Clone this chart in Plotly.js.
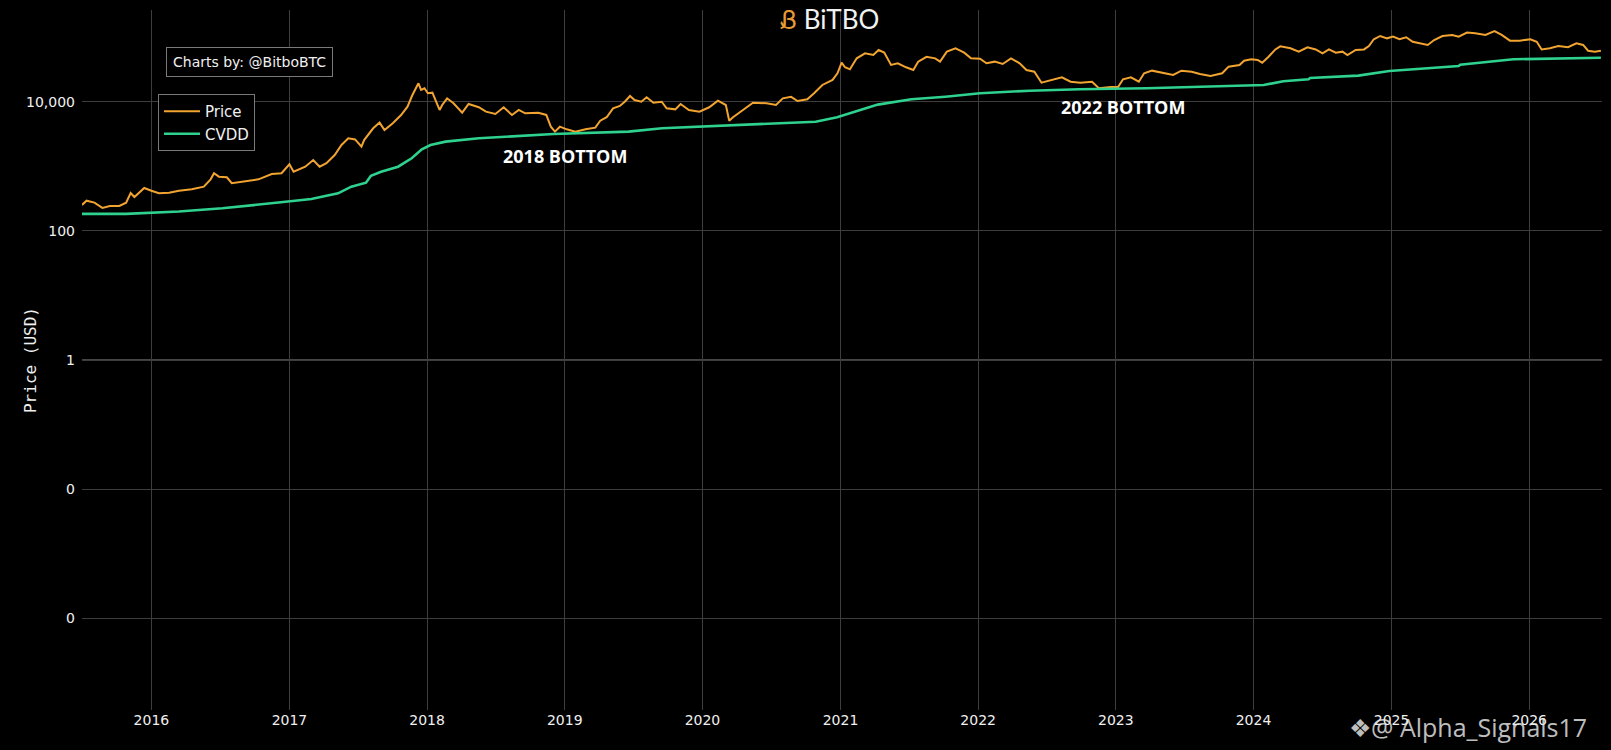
<!DOCTYPE html>
<html>
<head>
<meta charset="utf-8">
<script src="https://cdn.plot.ly/plotly-3.0.1.min.js"></script>
<style>html,body{margin:0;padding:0;background:#000;}#chart{width:1611px;height:750px;}</style>
</head>
<body>
<div id="chart"></div>
<script>
// ---- data ----
const priceDates = [
'2015-07-01','2015-07-13','2015-08-03','2015-08-24','2015-09-13','2015-10-08','2015-10-26','2015-11-07','2015-11-17','2015-12-13',
'2016-01-01','2016-01-21','2016-02-17','2016-03-14','2016-04-17','2016-05-19','2016-06-06','2016-06-15','2016-06-28','2016-07-19',
'2016-08-01','2016-09-05','2016-10-11','2016-11-15','2016-12-11','2017-01-01','2017-01-12','2017-02-12','2017-03-05','2017-03-22',
'2017-04-09','2017-05-01','2017-05-19','2017-06-06','2017-06-24','2017-07-11','2017-07-18','2017-08-11','2017-08-28','2017-09-10',
'2017-10-02','2017-10-24','2017-11-10','2017-11-23','2017-12-09','2017-12-16','2017-12-25','2018-01-03','2018-01-15','2018-02-03',
'2018-02-10','2018-02-23','2018-03-12','2018-04-04','2018-04-21','2018-05-18','2018-06-06','2018-07-01','2018-07-23','2018-08-14',
'2018-09-01','2018-09-18','2018-10-23','2018-11-13','2018-11-25','2018-12-06','2018-12-19','2019-01-06','2019-01-29','2019-02-25',
'2019-03-23','2019-04-05','2019-04-22','2019-05-09','2019-05-27','2019-06-09','2019-06-23','2019-07-05','2019-07-23','2019-08-06',
'2019-08-24','2019-09-15','2019-09-28','2019-10-21','2019-11-04','2019-11-26','2019-12-24','2020-01-19','2020-02-11','2020-03-03',
'2020-03-12','2020-03-22','2020-04-12','2020-04-26','2020-05-14','2020-06-19','2020-07-14','2020-08-01','2020-08-23','2020-09-09',
'2020-10-05','2020-10-23','2020-11-14','2020-12-11','2020-12-24','2021-01-04','2021-01-13','2021-01-26','2021-02-13','2021-03-07',
'2021-03-29','2021-04-12','2021-04-27','2021-05-15','2021-06-02','2021-06-24','2021-07-13','2021-07-26','2021-08-17','2021-09-09',
'2021-09-22','2021-10-10','2021-11-02','2021-11-25','2021-12-13','2022-01-06','2022-01-23','2022-02-14','2022-03-07','2022-03-29',
'2022-04-21','2022-05-09','2022-05-30','2022-06-18','2022-07-09','2022-08-11','2022-09-03','2022-09-29','2022-10-30','2022-11-17',
'2022-12-18','2023-01-07','2023-01-20','2023-02-10','2023-03-03','2023-03-17','2023-04-07','2023-05-05','2023-06-02','2023-06-24',
'2023-07-21','2023-08-12','2023-09-09','2023-10-10','2023-10-27','2023-11-25','2023-12-07','2023-12-26','2024-01-12','2024-01-24',
'2024-02-10','2024-02-28','2024-03-12','2024-04-08','2024-04-30','2024-05-23','2024-06-14','2024-07-02','2024-07-19','2024-08-06',
'2024-08-24','2024-09-06','2024-09-28','2024-10-20','2024-11-02','2024-11-15','2024-12-02','2024-12-20','2025-01-05','2025-01-22',
'2025-02-09','2025-02-26','2025-03-18','2025-04-07','2025-04-24','2025-05-16','2025-06-11','2025-06-28','2025-07-20','2025-08-11',
'2025-09-07','2025-10-01','2025-10-20','2025-11-11','2025-12-07','2026-01-04','2026-01-21','2026-02-03','2026-02-25','2026-03-19',
'2026-04-14','2026-05-06','2026-05-24','2026-06-06','2026-06-24','2026-07-10'
];
const priceValues = [
253,295,275,228,244,244,275,388,336,464,
421,385,393,421,443,486,632,785,695,680,
550,582,632,766,785,1082,830,993,1260,993,
1125,1506,2153,2735,2630,2026,2570,3910,4790,3680,
4680,6280,8450,12830,19500,15350,16300,13650,13960,7520,
8980,11400,9540,6820,9310,8300,7080,6510,8280,6280,
7520,6670,6820,6300,4140,3470,4140,3770,3470,3770,
4000,5130,5800,7980,8670,10100,12400,10740,10100,11830,
9750,10100,7980,7690,9310,7520,7080,8280,10480,8980,
5130,5800,7080,7980,9750,9540,8980,11400,12020,10360,
11000,13650,18370,21950,27860,40700,34500,32100,47500,56900,
53500,64000,58200,37500,39800,34500,31300,42200,50200,47500,
42200,60300,68000,58200,47500,47000,39800,42200,38800,47500,
39800,31300,29500,19900,21400,24150,20650,19900,20650,16300,
17000,17000,22500,24150,20650,27860,30600,28500,26250,30600,
29500,27200,25300,27860,35300,37500,43600,45900,44800,40700,
50200,65300,73000,68000,60300,70500,65300,56900,65300,58200,
60300,53500,64000,65300,73800,93800,105500,97000,103000,93800,
100700,86000,81300,76600,91400,105500,109400,103000,119000,116000,
109400,126000,109400,89200,89200,93800,86000,65300,68000,73800,
70500,81300,76600,62400,60300,62400
];
const cvddDates = [
'2015-07-01','2015-10-26','2016-03-14','2016-07-07','2016-12-03','2017-02-28','2017-05-10','2017-06-14','2017-07-23','2017-08-05',
'2017-09-01','2017-10-16','2017-11-21','2017-12-18','2018-01-10','2018-02-19','2018-05-18','2018-12-02','2019-06-19','2019-09-16',
'2020-10-27','2020-12-23','2021-04-10','2021-07-08','2021-10-06','2022-01-06','2022-05-18','2022-09-27','2023-03-24','2023-09-16',
'2023-11-25','2024-01-28','2024-03-20','2024-05-26','2024-05-30','2024-10-05','2024-12-26','2025-06-28','2025-07-02','2025-11-20',
'2026-07-10'
];
const cvddValues = [
184,184,200,225,276,314,384,486,562,719,
830,993,1340,1850,2153,2430,2735,3190,3470,3910,
4950,5800,9100,11000,12080,13650,14970,15750,16300,17300,
17700,18300,21000,22500,23550,25600,30200,36100,37900,45900,
48600
];
const yTickVals = [0.0001, 0.01, 1, 100, 10000];
const yTickText = ['0', '0', '1', '100', '10,000'];
const seriesNames = ['Price', 'CVDD'];

// ---- chart ----
const traces = [
  {x: priceDates, y: priceValues, name: seriesNames[0], type: 'scatter', mode: 'lines',
   line: {color: '#f2a431', width: 2}},
  {x: cvddDates, y: cvddValues, name: seriesNames[1], type: 'scatter', mode: 'lines',
   line: {color: '#2fd18f', width: 2.6}}
];

const layout = {
  width: 1611, height: 750,
  paper_bgcolor: '#000', plot_bgcolor: '#000',
  margin: {l: 82, r: 9, t: 10, b: 40},
  font: {family: 'DejaVu Sans, Verdana, sans-serif', color: '#f0f0f0', size: 14},
  showlegend: true,
  legend: {x: 0.05, y: 0.88, xanchor: 'left', yanchor: 'top',
           bgcolor: '#000', bordercolor: '#7a7a7a', borderwidth: 1,
           itemwidth: 36,
           font: {size: 15, color: '#f0f0f0'}},
  xaxis: {type: 'date', range: ['2015-07-01', '2026-07-13'],
          showgrid: true, gridcolor: '#3d3d3d', gridwidth: 1,
          zeroline: false, showline: false, ticks: '',
          dtick: 'M12', tickformat: '%Y',
          tickfont: {size: 14, color: '#f0f0f0'}},
  yaxis: {type: 'log', range: [-5.426, 5.426],
          tickmode: 'array', tickvals: yTickVals, ticktext: yTickText,
          showgrid: true, gridcolor: '#3d3d3d', gridwidth: 1,
          zeroline: false, showline: false, ticks: '',
          ticklabelstandoff: 6,
          tickfont: {size: 14, color: '#f0f0f0'}},
  shapes: [
    {type: 'line', xref: 'paper', x0: 0, x1: 1, yref: 'y', y0: 1, y1: 1,
     line: {color: '#5e5e5e', width: 1.3}, layer: 'below'}
  ],
  annotations: [
    {xref: 'paper', yref: 'paper', x: -0.0342, y: 0.5, xanchor: 'center', yanchor: 'middle',
     text: 'Price (USD)', textangle: -90, showarrow: false,
     font: {family: 'DejaVu Sans Mono, monospace', size: 16, color: '#f0f0f0'}},
    {xref: 'paper', yref: 'paper', x: 0.110, y: 0.926, xanchor: 'center', yanchor: 'middle',
     text: 'Charts by: @BitboBTC', showarrow: false,
     font: {size: 14, color: '#f0f0f0'},
     bgcolor: '#000', bordercolor: '#7a7a7a', borderwidth: 1, borderpad: 6},
    {xref: 'paper', yref: 'paper', x: 0.318, y: 0.791, xanchor: 'center', yanchor: 'middle',
     text: '<b>2018 BOTTOM</b>', showarrow: false,
     font: {family: 'Open Sans, sans-serif', size: 18, color: '#ffffff'}},
    {xref: 'paper', yref: 'paper', x: 0.685, y: 0.861, xanchor: 'center', yanchor: 'middle',
     text: '<b>2022 BOTTOM</b>', showarrow: false,
     font: {family: 'Open Sans, sans-serif', size: 18, color: '#ffffff'}},
    {xref: 'paper', yref: 'paper', x: 0.492, y: 0.987, xanchor: 'center', yanchor: 'middle',
     text: '<span style="color:#e89a35">Ᏸ</span> BiTBO', showarrow: false,
     font: {family: 'Lato, sans-serif', size: 26, color: '#f2f2f2'}},
    {xref: 'paper', yref: 'paper', x: 0.912, y: -0.024, xanchor: 'center', yanchor: 'middle',
     text: '❖@ Alpha_Signals17', showarrow: false,
     font: {family: 'Open Sans, sans-serif', size: 25, color: 'rgba(235,235,235,0.82)'}}
  ]
};

Plotly.newPlot('chart', traces, layout, {displayModeBar: false, staticPlot: true});
</script>
</body>
</html>
